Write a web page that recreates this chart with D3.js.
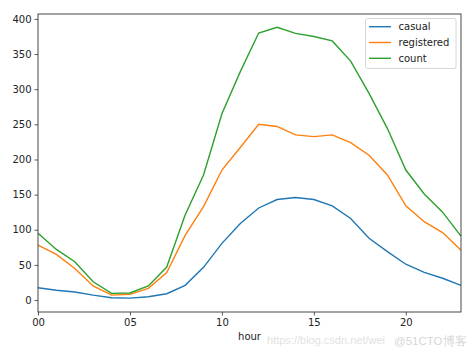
<!DOCTYPE html>
<html><head><meta charset="utf-8">
<script src="https://cdn.jsdelivr.net/npm/d3@7"></script>
<style>body{margin:0;background:#fff}svg{display:block;font-family:"DejaVu Sans",sans-serif}</style>
</head><body><svg id="c" width="474" height="355"></svg>
<script>
const hours = d3.range(0, 24);
const casual = [17.5,14,11.4,7,3.3,2.8,4.7,9,21,46.5,80.7,109,131,143,146,143,134,116,88,69,51,39.4,31,21];
const registered = [78,65,45,20,7,8,16.6,39,92,133,185,217,250,247,235,232.5,235,224,206,178,134,111.5,96,71];
const count = [95,72,54.5,26,9.5,10,20,47,121,178,265,325,380,388,379.5,375,368.7,340,294,244,185,151,125,91];
const seriesNames = ["casual","registered","count"];
const seriesColors = ["#1f77b4","#ff7f0e","#2ca02c"];
const yTicks = [0,50,100,150,200,250,300,350,400];
const xTicks = [0,5,10,15,20];
const xLabel = "hour";

const svg = d3.select("#c");
const L=38, R=461, T=14, B=312;
const x = d3.scaleLinear().domain([0,23]).range([L,R]);
const y = d3.scaleLinear().domain([-17,407]).range([B,T]);

const data = [casual, registered, count];
const line = d3.line().x((d,i)=>x(hours[i])).y(d=>y(d));
data.forEach((s,k)=>{
  svg.append("path").attr("d", line(s)).attr("fill","none")
    .attr("stroke", seriesColors[k]).attr("stroke-width",1.4);
});

// frame
svg.append("rect").attr("x",L).attr("y",T).attr("width",R-L).attr("height",B-T)
  .attr("fill","none").attr("stroke","#333").attr("stroke-width",0.9);

const gx = svg.append("g").attr("transform",`translate(0,${B})`)
  .call(d3.axisBottom(x).tickValues(xTicks).tickSize(3.5).tickPadding(3).tickFormat(d=>d3.format("02d")(d)));
const gy = svg.append("g").attr("transform",`translate(${L},0)`)
  .call(d3.axisLeft(y).tickValues(yTicks).tickSize(3.5).tickPadding(3));
[gx,gy].forEach(g=>{
  g.select(".domain").remove();
  g.selectAll("line").attr("stroke","#333").attr("stroke-width",0.8);
  g.selectAll("text").attr("font-size",10).attr("fill","#222").attr("font-family","DejaVu Sans");
});

svg.append("text").attr("x",249.5).attr("y",340).attr("text-anchor","middle")
  .attr("font-size",10).attr("fill","#222").text(xLabel);

// legend
const lg = svg.append("g");
lg.append("rect").attr("x",365.5).attr("y",18.5).attr("width",90.5).attr("height",50)
  .attr("rx",2).attr("fill","#fff").attr("fill-opacity",0.8).attr("stroke","#ccc").attr("stroke-width",0.8);
seriesNames.forEach((n,k)=>{
  const yy = 26.7 + k*15.8;
  lg.append("line").attr("x1",369).attr("x2",391).attr("y1",yy).attr("y2",yy)
    .attr("stroke",seriesColors[k]).attr("stroke-width",1.4);
  lg.append("text").attr("x",398.5).attr("y",yy).attr("dy","0.35em")
    .attr("font-size",10).attr("fill","#222").text(n);
});

// watermark
svg.append("text").attr("x",267).attr("y",344).attr("font-size",11).attr("fill","#e2e2e2")
  .attr("font-family","Liberation Sans").text("https://blog.csdn.net/wei");
svg.append("text").attr("x",394).attr("y",345).attr("font-size",11.5).attr("fill","#d6d6d6")
  .attr("font-family","Liberation Sans").text("@51CTO博客");
</script></body></html>
